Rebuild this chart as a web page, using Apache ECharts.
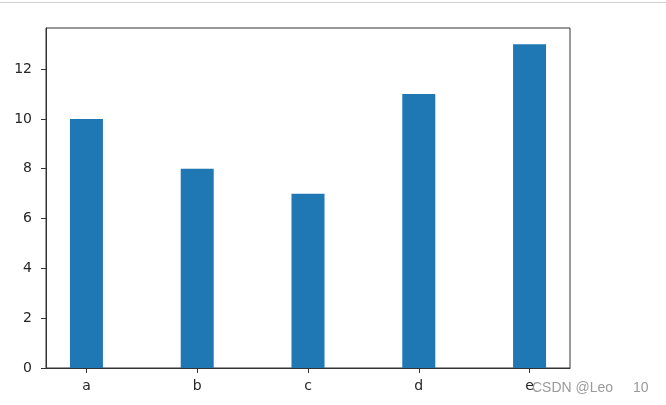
<!DOCTYPE html>
<html><head><meta charset="utf-8">
<script src="https://cdn.jsdelivr.net/npm/echarts@6/dist/echarts.min.js"></script>
<style>html,body{margin:0;padding:0;background:#fff}#c{width:666px;height:405px}</style>
</head><body><div id="c"></div>
<script>
const categories = ['a', 'b', 'c', 'd', 'e'];
const values = [10, 8, 7, 11, 13];
const yTicks = [0, 2, 4, 6, 8, 10, 12];
const xTicks = [0, 1, 2, 3, 4];

const chart = echarts.init(document.getElementById('c'), null, {renderer: 'canvas'});
const font = 'DejaVu Sans';
chart.setOption({
  animation: false,
  backgroundColor: '#fff',
  grid: {left: 46, right: 96, top: 28, bottom: 37, show: true, borderColor: '#333', borderWidth: 1, backgroundColor: 'transparent'},
  xAxis: {
    type: 'value', min: -0.365, max: 4.365,
    splitLine: {show: false},
    axisLine: {show: true, onZero: false, lineStyle: {color: '#333', width: 1}},
    axisTick: {show: true, customValues: xTicks, length: 5, lineStyle: {color: '#333'}},
    axisLabel: {customValues: xTicks, formatter: v => categories[Math.round(v)], color: '#262626', fontFamily: font, fontSize: 14, margin: 11}
  },
  yAxis: {
    type: 'value', min: 0, max: 13.65,
    splitLine: {show: false},
    axisLine: {show: true, onZero: false, lineStyle: {color: '#333', width: 1}},
    axisTick: {show: true, customValues: yTicks, length: 5, lineStyle: {color: '#333'}},
    axisLabel: {customValues: yTicks, color: '#262626', fontFamily: font, fontSize: 14, margin: 14}
  },
  series: [{
    type: 'bar',
    barWidth: 33,
    itemStyle: {color: '#1f77b4'},
    data: values.map((v, i) => [i, v])
  }],
  graphic: [
    {type: 'rect', shape: {x: 0, y: 2, width: 666, height: 1}, style: {fill: '#d0d0d0'}},
    {type: 'text', left: 532, top: 381, style: {text: 'CSDN @Leo', fill: '#9a9a9a', font: '14px "Liberation Sans"'}},
    {type: 'text', left: 633, top: 381, style: {text: '10', fill: '#9a9a9a', font: '14px "Liberation Sans"'}}
  ]
});
</script></body></html>
